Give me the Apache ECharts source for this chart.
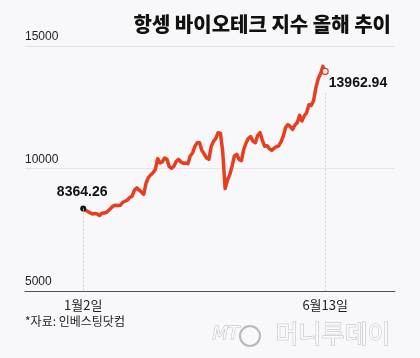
<!DOCTYPE html>
<html><head><meta charset="utf-8">
<script src="https://cdn.jsdelivr.net/npm/echarts@6/dist/echarts.min.js"></script>
<style>html,body{margin:0;padding:0;background:#f8f8fa;}#c{width:420px;height:358px;}</style>
</head><body><div id="c"></div>
<script>
const title = '항셍 바이오테크 지수 올해 추이';
const source = '*자료: 인베스팅닷컴';
const xTickLabels = ['1월2일', '6월13일'];
const yTicks = [5000, 10000, 15000];
const values = [
 8364.26, 8296, 8241, 8187, 8146, 8160, 8146, 8078, 8173, 8187,
 8201, 8296, 8391, 8472, 8500, 8486, 8500, 8622, 8663, 8717,
 8812, 8867, 9111, 9206, 9125, 9043, 8948, 9397, 9628, 9736,
 9831, 9954, 10402, 10226, 10266, 10429, 10375, 10076, 10008, 10090,
 10293, 10375, 10266, 10212, 10226, 10198, 10511, 10633, 10905, 11054,
 11054, 10742, 10592, 10429, 10375, 10891, 11109, 11231, 11462, 11435,
 10647, 9179, 9532, 9750, 10103, 10511, 10579, 10361, 10321, 10783,
 11041, 11231, 11299, 11109, 11054, 11353, 11462, 11150, 10905, 10932,
 10810, 10742, 10823, 10891, 10919, 11082, 11326, 11680, 11788, 11707,
 11598, 11775, 11870, 12169, 11938, 12142, 12278, 12604, 12577, 12767,
 13297, 13664, 13868, 14167, 13962.94
];
const lastIdx = values.length - 1;
const red = '#e63e1f';

const seriesData = values.map((v, i) => {
  const item = { value: [i, v] };
  if (i === 0) {
    item.symbol = 'circle'; item.symbolSize = 6;
    item.itemStyle = { color: '#111', borderColor: '#111', borderWidth: 0 };
    item.label = { show: true, position: 'top', distance: 6, formatter: v.toFixed(2),
      fontFamily: 'Liberation Sans', fontWeight: 'bold', fontSize: 14, color: '#111', offset: [-1, 0] };
  } else if (i === lastIdx) {
    item.symbol = 'circle'; item.symbolSize = 6;
    item.itemStyle = { color: '#fff', borderColor: red, borderWidth: 1.2 };
    item.label = { show: true, position: 'right', distance: 2, formatter: v.toFixed(2),
      fontFamily: 'Liberation Sans', fontWeight: 'bold', fontSize: 14, color: '#111', offset: [-2, 12] };
  } else {
    item.symbol = 'none';
  }
  return item;
});

const chart = echarts.init(document.getElementById('c'), null, { renderer: 'canvas' });
chart.setOption({
  backgroundColor: '#f8f8fa',
  animation: false,
  title: {
    text: title, right: 24, top: 9,
    textStyle: { fontFamily: 'Noto Sans CJK KR', fontWeight: 900, fontSize: 20, color: '#111' }
  },
  grid: { left: 25, right: 25, top: 46, bottom: 67 },
  xAxis: {
    type: 'value', min: -25, max: 134,
    axisLine: { show: true, lineStyle: { color: '#555', width: 1 } },
    axisTick: { show: false },
    splitLine: { show: false },
    axisLabel: {
      customValues: [0, lastIdx],
      formatter: (v) => v === 0 ? xTickLabels[0] : xTickLabels[1],
      margin: 8, fontFamily: 'Noto Sans CJK KR', fontSize: 13, color: '#222'
    }
  },
  yAxis: {
    type: 'value', min: yTicks[0], max: yTicks[2], interval: 5000,
    axisLine: { show: false }, axisTick: { show: false },
    splitLine: { show: true, lineStyle: { color: '#e4e4e6', width: 1 } },
    axisLabel: {
      inside: true, margin: 0, verticalAlign: 'bottom', padding: [0, 0, 3, 0],
      formatter: (v) => String(v),
      fontFamily: 'Liberation Sans', fontSize: 12, color: '#222'
    }
  },
  series: [{
    type: 'line',
    data: seriesData,
    showSymbol: true, showAllSymbol: true,
    symbol: 'none',
    lineStyle: { color: red, width: 3.5, cap: 'round', join: 'round' },
    itemStyle: { color: red },
    z: 3,
    markLine: {
      silent: true, symbol: 'none', label: { show: false },
      lineStyle: { color: '#cfcfd2', type: [2, 2], width: 1 },
      data: [
        [{ coord: [0, values[0]] }, { coord: [0, yTicks[0]] }],
        [{ coord: [lastIdx, 13070] }, { coord: [lastIdx, yTicks[0]] }]
      ]
    }
  }],
  graphic: [
    { type: 'text', left: 25, top: 315,
      style: { text: source, font: '12px "Noto Sans CJK KR"', fill: '#222' } },
    { type: 'text', left: 212, top: 325,
      style: { text: 'MT', font: 'italic 18px "DejaVu Sans"', fill: '#fbfbfc', stroke: '#b8b8bc', lineWidth: 1 } },
    { type: 'circle', shape: { cx: 250, cy: 336, r: 10 },
      style: { fill: 'none', stroke: '#b8b8bc', lineWidth: 2 } },
    { type: 'text', left: 275, top: 320,
      style: { text: '머니투데이', font: '25px "Noto Sans CJK KR"', fill: '#fbfbfc', stroke: '#b8b8bc', lineWidth: 1 } }
  ]
});
</script>
</body></html>
